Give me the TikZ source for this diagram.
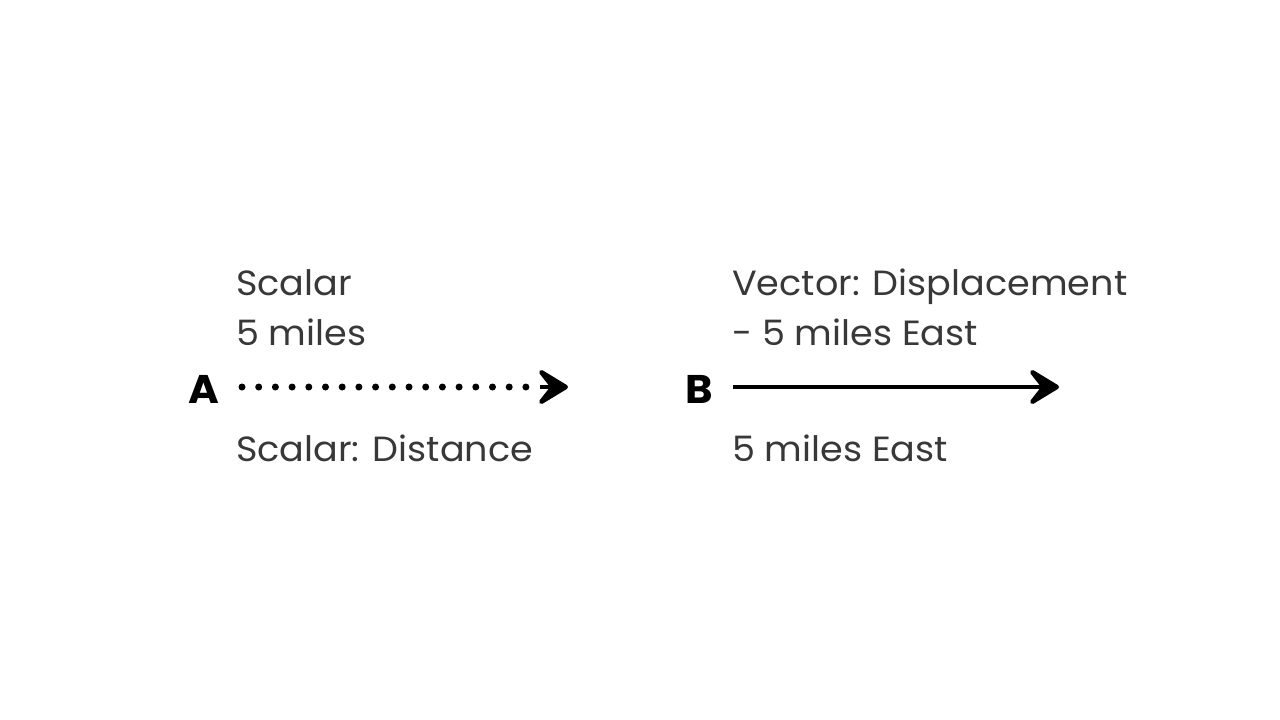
\documentclass[tikz,border=0pt]{standalone}
\usepackage{fontspec}
\setmainfont[FakeStretch=1.045]{Poppins}
\usetikzlibrary{arrows.meta}
\definecolor{txt}{HTML}{383838}
\begin{document}
\begin{tikzpicture}[x=1pt,y=-1pt,
  lbl/.style={anchor=base west,inner sep=0pt,text=txt,font=\fontsize{35}{42}\selectfont},
  pt/.style={inner sep=0pt,text=black,font=\fontsize{40}{48}\selectfont\bfseries},
  headtip/.style={-{Stealth[length=38pt,width=46pt,inset=18pt,round]}},
  vec/.style={line width=4.5pt,draw=black,headtip},
  dots/.style={line width=7pt,draw=black,line cap=round,dash pattern=on 0pt off 16.7pt}]
\useasboundingbox (0,0) rectangle (1280,720);
\fill[white] (0,0) rectangle (1280,720);
\node[pt] (A) at (204,389) {A};
\node[pt] (B) at (699,389) {B};
\coordinate (Aend) at (568,387);
\coordinate (Bend) at (1059,387);
\draw[dots] (242,387) -- (527,387);
\draw[line width=4.5pt,headtip] (540,387) -- (Aend);
\draw[vec] (733,387) -- (Bend);
\node[lbl] (s1) at (236,295) {Scalar};
\node[lbl] (s2) at (236,345) {5 miles};
\node[lbl] (s3) at (236,461) {Scalar: Distance};
\node[lbl] (v1) at (732,295) {Vector: Displacement};
\node[lbl] (v2) at (732,345) {- 5 miles East};
\node[lbl] (v3) at (732,461) {5 miles East};
\end{tikzpicture}
\end{document}
